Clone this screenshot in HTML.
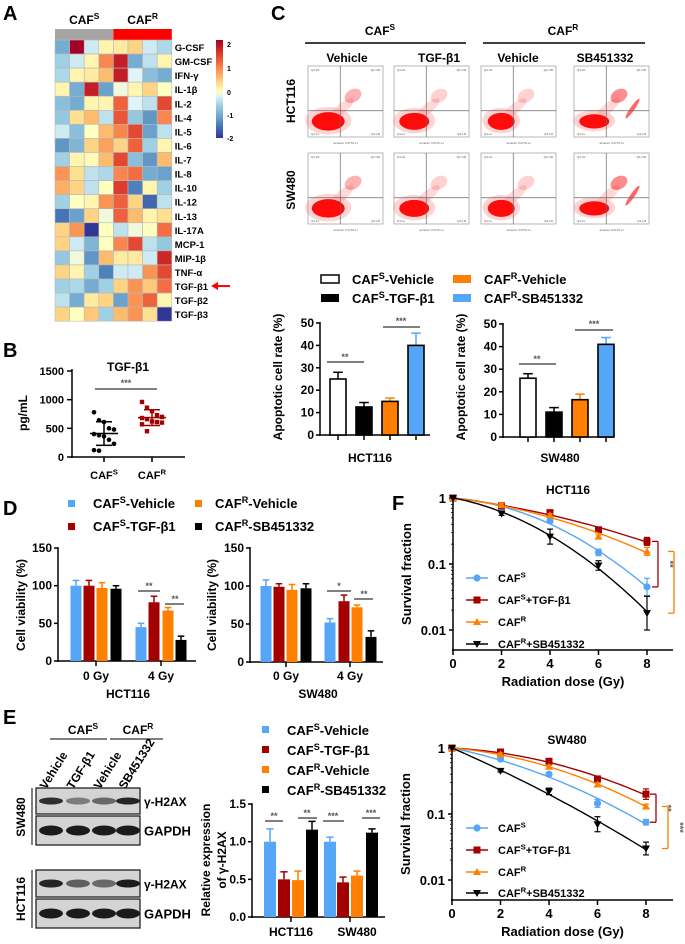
<!DOCTYPE html>
<html><head><meta charset="utf-8">
<style>
html,body{margin:0;padding:0;background:#fff;}
svg{display:block;}
text{font-family:"Liberation Sans",sans-serif;}
</style></head>
<body>
<svg id="fig" width="685" height="944" viewBox="0 0 685 944"></svg>
<script>
// ---------- DATA ----------
const hmRows=['G-CSF','GM-CSF','IFN-γ','IL-1β','IL-2','IL-4','IL-5','IL-6','IL-7','IL-8','IL-10','IL-12','IL-13','IL-17A','MCP-1','MIP-1β','TNF-α','TGF-β1','TGF-β2','TGF-β3'];
const hmVals=[
[-1,2.2,-0.3,0.1,0.2,0.4,-0.3,-0.5],
[-0.6,-0.3,0.1,1,1.9,-1,-0.4,0.1],
[-0.5,0.1,0.2,0.6,1.9,-0.2,-0.8,-1],
[0.1,-1,1.9,-1.1,-0.1,0.1,0.4,0],
[-0.8,-1,0.1,0.1,1.3,-0.2,-0.4,1.5],
[-0.7,0.3,0.6,-0.4,1.4,-0.7,-1.2,1],
[-0.3,-0.8,0,0.6,1,1.5,-1.1,-0.4],
[-1.2,-0.9,0.4,0.8,0.4,1.3,-0.6,0.1],
[-0.6,0.1,0.05,0.6,1.5,-0.8,-1.2,0.6],
[0.9,0.3,-0.4,-0.5,1,1.2,-1,-1.1],
[0.7,0.4,-0.4,0,1.6,-1.4,0.1,-0.6],
[-0.6,0,0.1,0.9,1.3,0.4,-1.6,-0.4],
[-1.5,-1.1,0.4,-0.1,1.3,0.6,0.1,0.3],
[0.4,0.9,-2,0,-0.4,-0.1,0,1.2],
[0.4,-0.3,-0.9,0,1,1.5,-0.4,-0.7],
[-0.7,-0.1,-1.2,0.6,0.2,0.2,-0.3,1.8],
[0.4,0.1,-0.6,-1.4,-0.3,-0.3,0.9,1.5],
[-0.6,-0.5,-1,-0.6,0.4,0.9,0.5,1.2],
[-0.4,-1,0.2,0.4,-1.1,0.9,1.3,0.1],
[0.4,0,0.5,-0.6,0.6,0.9,0.3,-2]];
const bCafS=[780,640,610,500,480,400,380,360,300,230,120,110];
const bCafR=[960,860,800,730,700,680,660,620,610,600,570,450];
const bTicks=[0,500,1000,1500];
const apoH=[25,12.5,15,40], apoHErr=[3,2,1.5,5.5];
const apoS=[26,11,16.5,41], apoSErr=[2,2,2.5,3];
const apoTicks=[0,10,20,30,40,50];
const cvH0=[100,100,97,96], cvH0Err=[7,7,7,4];
const cvH4=[45,78,67,28], cvH4Err=[5,8,4,5];
const cvS0=[100,99,95,97], cvS0Err=[8,4,7,6];
const cvS4=[52,80,72,33], cvS4Err=[5,8,3,8];
const cvTicks=[0,50,100,150];
const eHCT=[1.0,0.5,0.49,1.16], eHCTErr=[0.17,0.1,0.12,0.11];
const eSW=[1.0,0.46,0.55,1.12], eSWErr=[0.06,0.07,0.06,0.05];
const eTicks=[0,0.5,1.0,1.5];
const doses=[0,2,4,6,8];
const fH_cafS=[1,0.68,0.45,0.15,0.045], fH_tgf=[1,0.76,0.6,0.33,0.22], fH_cafR=[1,0.78,0.55,0.26,0.155], fH_sb=[1,0.58,0.26,0.095,0.018];
const fS_cafS=[1,0.68,0.4,0.145,0.075], fS_tgf=[1,0.87,0.63,0.34,0.2], fS_cafR=[1,0.8,0.52,0.28,0.13], fS_sb=[1,0.45,0.22,0.07,0.03];
const doseTicks=[0,2,4,6,8];
const sfTicks=[1,0.1,0.01], sfTickLabels=['1','0.1','0.01'];

// ---------- HELPERS ----------
const NS='http://www.w3.org/2000/svg';
const svg=document.getElementById('fig');
function el(tag,attrs,name,parent){
  const e=document.createElementNS(NS,tag);
  for(const k in attrs) e.setAttribute(k,attrs[k]);
  
  
  (parent||svg).appendChild(e);
  return e;
}
function txt(x,y,s,size,name,opt){
  opt=opt||{};
  const a={x:x,y:y,'font-size':size,'font-weight':opt.w||'bold','text-anchor':opt.a||'middle',fill:opt.fill||'#000'};
  if(opt.rot) a.transform='rotate('+opt.rot+' '+x+' '+y+')';
  if(opt.ff) a['font-family']=opt.ff;
  const t=el('text',a,name);
  const parts=s.split('^');
  parts.forEach((p,i)=>{
    if(!p) return;
    const ts=document.createElementNS(NS,'tspan');
    if(i%2){ts.setAttribute('font-size',size*0.7);ts.setAttribute('dy',-size*0.4);}
    else if(i>0){ts.setAttribute('dy',size*0.4);}
    ts.textContent=p;t.appendChild(ts);
  });
  return t;
}
function line(x1,y1,x2,y2,name,col,w){return el('line',{x1,y1,x2,y2,stroke:col||'#000','stroke-width':w||1.5},name);}
const BLUE='#56a6f7',RED='#a30000',ORG='#ff8000',BLK='#000';

// ---------- PANEL A ----------
txt(3,20,'A',20,'panel-a-label',{a:'start'});
const stops=[[-2,[49,54,149]],[-1.5,[69,117,180]],[-1,[116,173,209]],[-0.5,[171,217,233]],[-0.2,[224,243,248]],[0,[255,255,191]],[0.3,[254,224,144]],[0.7,[253,174,97]],[1.2,[244,109,67]],[1.7,[215,48,39]],[2.2,[165,0,38]]];
function hmColor(v){
  if(v<=stops[0][0]) return 'rgb('+stops[0][1]+')';
  for(let i=1;i<stops.length;i++){ if(v<=stops[i][0]){const t=(v-stops[i-1][0])/(stops[i][0]-stops[i-1][0]);const c=stops[i-1][1].map((c0,j)=>Math.round(c0+(stops[i][1][j]-c0)*t));return 'rgb('+c+')';}}
  return 'rgb('+stops[stops.length-1][1]+')';
}
const hx0=55,hy0=40,cw=14.6,ch=14.06;
el('rect',{x:hx0,y:29,width:cw*4,height:11,fill:'#a8a4a4'},'caf-s-group-bar');
el('rect',{x:hx0+cw*4,y:29,width:cw*4,height:11,fill:'#ff0000'},'caf-r-group-bar');
txt(hx0+cw*2,24,'CAF^S',12,'caf-s-header');
txt(hx0+cw*6,24,'CAF^R',12,'caf-r-header');
hmVals.forEach((row,r)=>{
  row.forEach((v,c)=>{
    el('rect',{x:hx0+c*cw,y:hy0+r*ch,width:cw,height:ch,fill:hmColor(v),stroke:'#b8b8b8','stroke-width':0.6},'heatmap-cell');
  });
  txt(hx0+8*cw+3,hy0+r*ch+ch/2+4,hmRows[r],9.5,'heatmap-row-label',{a:'start'});
});
el('line',{x1:215,y1:hy0+17*ch+ch/2,x2:230,y2:hy0+17*ch+ch/2,stroke:'#f00','stroke-width':2},'tgf-b1-arrow');
el('path',{d:'M'+(211)+' '+(hy0+17*ch+ch/2)+' l7 -4 l0 8 z',fill:'#f00'},'tgf-b1-arrowhead');
const defs=el('defs',{},'defs');
const lg=el('linearGradient',{id:'cbg',x1:0,y1:1,x2:0,y2:0},'colorbar-gradient',defs);
for(let v=-2;v<=2.2001;v+=0.2){el('stop',{offset:((v+2)/4.2),'stop-color':hmColor(v)},'gradient-stop',lg);}
el('rect',{x:216,y:40,width:7,height:98,fill:'url(#cbg)'},'colorbar');
[[2,44],[1,68],[0,92],[-1,115],[-2,138]].forEach(t=>{txt(227,t[1]+3,String(t[0]),7,'colorbar-tick',{a:'start'});});

// ---------- PANEL B ----------
txt(3,357,'B',20,'panel-b-label',{a:'start'});
txt(128,371,'TGF-β1',12,'panel-b-title');
const bY=v=>457-v*(86/1500);
line(72,369,72,458,'b-y-axis');line(71,457,185,457,'b-x-axis');
bTicks.forEach(v=>{line(67,bY(v),72,bY(v),'b-y-tick');txt(64,bY(v)+4,String(v),11,'b-y-tick-label',{a:'end'});});
line(104,457,104,462,'b-x-tick');line(152,457,152,462,'b-x-tick');
txt(104,479,'CAF^S',11,'b-x-label-cafs',{ff:'"Liberation Serif",serif'});
txt(152,479,'CAF^R',11,'b-x-label-cafr');
txt(27,413,'pg/mL',12,'b-y-title',{rot:-90});
line(95,389,157,389,'b-sig-line',null,1);
txt(126,386,'***',9,'b-sig-stars',{fill:'#555'});
function bGroup(vals,cx,col,shape,nm){
  const m=vals.reduce((a,b)=>a+b,0)/vals.length;
  const sd=Math.sqrt(vals.reduce((a,b)=>a+(b-m)*(b-m),0)/(vals.length-1));
  vals.forEach((v,i)=>{
    const x=cx+((i%5)-2)*5;
    if(shape==='c') el('circle',{cx:x,cy:bY(v),r:2.3,fill:col},nm+'-point');
    else el('rect',{x:x-2.2,y:bY(v)-2.2,width:4.4,height:4.4,fill:col},nm+'-point');
  });
  line(cx-14,bY(m),cx+14,bY(m),nm+'-mean',col,1.5);
  line(cx-8,bY(m+sd),cx+8,bY(m+sd),nm+'-sd-top',col,1.5);
  line(cx-8,bY(m-sd),cx+8,bY(m-sd),nm+'-sd-bottom',col,1.5);
  line(cx,bY(m-sd),cx,bY(m+sd),nm+'-sd-line',col,1.5);
}
bGroup(bCafS,104,'#000','c','b-cafs');
bGroup(bCafR,152,RED,'s','b-cafr');

// ---------- PANEL C flow ----------
txt(271,20,'C',20,'panel-c-label',{a:'start'});
txt(380,35,'CAF^S',12,'c-cafs-header');txt(563,35,'CAF^R',12,'c-cafr-header');
line(305,43,466,43,'c-cafs-line');line(483,43,645,43,'c-cafr-line');
['Vehicle','TGF-β1','Vehicle','SB451332'].forEach((s,i)=>txt([347,439,518,605][i],62,s,12,'c-col-header'));
txt(295,101,'HCT116',12,'c-row-hct116',{rot:-90});
txt(295,190,'SW480',12,'c-row-sw480',{rot:-90});
const fx=[308,394,481,574],fy=[66,153],fw=75,fh=71;
const lr=[[0.22,0.13],[0.2,0.12],[0.18,0.12],[0.2,0.1]];
fy.forEach((y,ri)=>fx.forEach((x,ci)=>{
  el('rect',{x:x,y:y,width:fw,height:fh,fill:'#fff',stroke:'#999','stroke-width':0.7},'flow-plot');
  el('ellipse',{cx:x+fw*0.27,cy:y+fh*0.77,rx:fw*lr[ci][0]*1.4,ry:fh*lr[ci][1]*1.5,fill:'#f55',opacity:0.25},'flow-cluster-halo');
  el('ellipse',{cx:x+fw*0.45,cy:y+fh*0.6,rx:fw*0.2,ry:fh*0.07,fill:'#f66',opacity:0.25,transform:'rotate(-40 '+(x+fw*0.45)+' '+(y+fh*0.6)+')'},'flow-cluster-trail');
  el('ellipse',{cx:x+fw*0.27,cy:y+fh*0.78,rx:fw*lr[ci][0],ry:fh*lr[ci][1],fill:'#f00',opacity:0.95},'flow-cluster-live');
  const ur=ci===3?0.9:(ci===0?0.6:0.35);
  el('ellipse',{cx:x+fw*0.6,cy:y+fh*0.42,rx:fw*0.12,ry:fh*0.09,fill:'#f00',opacity:ur*0.5,transform:'rotate(-30 '+(x+fw*0.6)+' '+(y+fh*0.42)+')'},'flow-cluster-apoptotic');
  if(ci===3) el('ellipse',{cx:x+fw*0.78,cy:y+fh*0.6,rx:fw*0.16,ry:fh*0.03,fill:'#f00',opacity:0.6,transform:'rotate(-55 '+(x+fw*0.78)+' '+(y+fh*0.6)+')'},'flow-cluster-late');
  line(x+fw*0.43,y,x+fw*0.43,y+fh,'flow-quadrant-v','#666',0.7);
  line(x,y+fh*0.63,x+fw,y+fh*0.63,'flow-quadrant-h','#666',0.7);
  txt(x+3,y+5,'Q1-UL',3,'flow-q-label',{a:'start',w:'normal',fill:'#555'});
  txt(x+fw-3,y+5,'Q1-UR',3,'flow-q-label',{a:'end',w:'normal',fill:'#555'});
  txt(x+3,y+fh-2,'Q1-LL',3,'flow-q-label',{a:'start',w:'normal',fill:'#555'});
  txt(x+fw-3,y+fh-2,'Q1-LR',3,'flow-q-label',{a:'end',w:'normal',fill:'#555'});
  txt(x+fw/2,y+fh+7,'annexin V-FITC-H',3,'flow-x-label',{w:'normal',fill:'#555'});
}));

// ---------- generic bar chart ----------
function barChart(o){
  const Y=v=>o.y0-v*o.ppu;
  line(o.ax,Y(o.ticks[o.ticks.length-1])-1,o.ax,o.y0+1,o.nm+'-y-axis');
  line(o.ax-1,o.y0,o.axEnd,o.y0,o.nm+'-x-axis');
  o.ticks.forEach((v,i)=>{line(o.ax-4,Y(v),o.ax,Y(v),o.nm+'-y-tick');txt(o.ax-6,Y(v)+4,o.tickLabels?o.tickLabels[i]:String(v),o.fs||12,o.nm+'-y-tick-label',{a:'end'});});
  o.series.forEach((s)=>{
    s.vals.forEach((v,i)=>{
      const cx=s.cx[i],col=o.colors[i];
      const top=Y(v+s.errs[i]);
      const ec=o.colors[i]==='#fff'?'#000':col;
      line(cx,Y(v),cx,top,o.nm+'-error-bar',ec,1.5);
      line(cx-o.bw*0.3,top,cx+o.bw*0.3,top,o.nm+'-error-cap',ec,1.5);
      el('rect',{x:cx-o.bw/2,y:Y(v),width:o.bw,height:v*o.ppu,fill:col,stroke:o.stroke?'#000':'none','stroke-width':o.stroke?1.6:0},o.nm+'-bar');
    });
  });
  return Y;
}

// ---------- PANEL C bars ----------
[[321,'#fff',true,'CAF^S^-Vehicle',352,284],[453,ORG,false,'CAF^R^-Vehicle',484,284],[321,BLK,false,'CAF^S^-TGF-β1',352,303],[453,BLUE,false,'CAF^R^-SB451332',484,303]].forEach(l=>{
  el('rect',{x:l[0],y:l[5]-9,width:18,height:8,fill:l[1],stroke:l[2]?'#000':'none','stroke-width':1.5},'c-legend-swatch');
  txt(l[4],l[5],l[3],13,'c-legend-label',{a:'start'});
});
const cCols=['#fff',BLK,ORG,BLUE];
barChart({nm:'c-hct116',ax:320,axEnd:430,y0:435,ppu:2.24,ticks:apoTicks,colors:cCols,bw:16,stroke:true,
  series:[{vals:apoH,errs:apoHErr,cx:[338,364,390,416]}]});
barChart({nm:'c-sw480',ax:503,axEnd:614,y0:437,ppu:2.26,ticks:apoTicks,colors:cCols,bw:16,stroke:true,
  series:[{vals:apoS,errs:apoSErr,cx:[528,554,580,606]}]});
[338,364,390,416,528,554,580,606].forEach(x=>line(x,x<500?435:437,x,x<500?440:442,'c-x-tick'));
txt(370,462,'HCT116',12,'c-x-label-hct116');txt(560,462,'SW480',12,'c-x-label-sw480');
txt(282,377,'Apoptotic cell rate (%)',12,'c-y-title-left',{rot:-90});
txt(465,377,'Apoptotic cell rate (%)',12,'c-y-title-right',{rot:-90});
line(327,362,364,362,'c-sig-line',null,1);txt(345,360,'**',9,'c-sig-stars',{fill:'#555'});
line(383,327,420,327,'c-sig-line',null,1);txt(401,324,'***',9,'c-sig-stars',{fill:'#555'});
line(519,364,556,364,'c-sig-line',null,1);txt(537,362,'**',9,'c-sig-stars',{fill:'#555'});
line(575,330,613,330,'c-sig-line',null,1);txt(594,327,'***',9,'c-sig-stars',{fill:'#555'});

// ---------- PANEL D ----------
txt(3,515,'D',20,'panel-d-label',{a:'start'});
[[68,BLUE,'CAF^S^-Vehicle',93,508],[195,ORG,'CAF^R^-Vehicle',215,508],[68,RED,'CAF^S^-TGF-β1',93,531],[195,BLK,'CAF^R^-SB451332',215,531]].forEach(l=>{
  el('rect',{x:l[0],y:l[4]-8,width:7,height:7,fill:l[1]},'d-legend-swatch');
  txt(l[3],l[4],l[2],13,'d-legend-label',{a:'start'});
});
const dCols=[BLUE,RED,ORG,BLK];
barChart({nm:'d-hct116',ax:58,axEnd:196,y0:661,ppu:0.753,ticks:cvTicks,colors:dCols,bw:11,
  series:[{vals:cvH0,errs:cvH0Err,cx:[76,89,102,116]},{vals:cvH4,errs:cvH4Err,cx:[141,154,168,181]}]});
barChart({nm:'d-sw480',ax:250,axEnd:383,y0:662,ppu:0.76,ticks:cvTicks,colors:dCols,bw:11,
  series:[{vals:cvS0,errs:cvS0Err,cx:[266,279,292,306]},{vals:cvS4,errs:cvS4Err,cx:[330,344,357,371]}]});
[[96,661],[161,661],[286,662],[350,662]].forEach(p=>line(p[0],p[1],p[0],p[1]+5,'d-x-tick'));
txt(96,680,'0 Gy',12,'d-x-label');txt(161,680,'4 Gy',12,'d-x-label');
txt(286,680,'0 Gy',12,'d-x-label');txt(350,680,'4 Gy',12,'d-x-label');
txt(128,698,'HCT116',12,'d-group-label');txt(318,698,'SW480',12,'d-group-label');
txt(25,605,'Cell viability (%)',12,'d-y-title-left',{rot:-90});
txt(216,605,'Cell viability (%)',12,'d-y-title-right',{rot:-90});
line(138,591,160,591,'d-sig-line',null,1);txt(149,589,'**',9,'d-sig-stars',{fill:'#555'});
line(165,604,184,604,'d-sig-line',null,1);txt(175,602,'**',9,'d-sig-stars',{fill:'#555'});
line(327,591,351,591,'d-sig-line',null,1);txt(339,589,'*',9,'d-sig-stars',{fill:'#555'});
line(354,599,373,599,'d-sig-line',null,1);txt(364,597,'**',9,'d-sig-stars',{fill:'#555'});

// ---------- PANEL E ----------
txt(3,724,'E',20,'panel-e-label',{a:'start'});
txt(83,734,'CAF^S',12,'e-cafs-header');txt(138,734,'CAF^R',12,'e-cafr-header');
line(50,739,107,739,'e-cafs-line',null,1);line(110,739,163,739,'e-cafr-line',null,1);
[['Vehicle',46],['TGF-β1',73],['Vehicle',100],['SB451332',125]].forEach(l=>txt(l[1],790,l[0],12,'e-lane-label',{a:'start',rot:-58}));
const blots=[[788,26,[0.85,0.45,0.55,0.9],7,'γ-H2AX'],[816,29,[0.95,0.95,0.95,0.95],10,'GAPDH'],[870,27,[0.9,0.6,0.55,0.95],8,'γ-H2AX'],[899,29,[0.95,0.95,0.95,0.95],10,'GAPDH']];
blots.forEach(b=>{
  el('rect',{x:36,y:b[0],width:104,height:b[1],fill:'#d4d4d4',stroke:'#222','stroke-width':1.3},'e-blot-box');
  [51,78,104,128].forEach((x,i)=>el('ellipse',{cx:x,cy:b[0]+b[1]/2,rx:12,ry:b[3]/2,fill:'#111',opacity:b[2][i]},'e-blot-band'));
  txt(144,b[0]+b[1]/2+5,b[4],b[4]==='GAPDH'?13:12,'e-blot-label',{a:'start'});
});
line(32,788,32,845,'e-sw480-bracket',null,1);line(32,870,32,928,'e-hct116-bracket',null,1);
txt(25,817,'SW480',12,'e-row-sw480',{rot:-90});txt(25,899,'HCT116',12,'e-row-hct116',{rot:-90});
[[BLUE,'CAF^S^-Vehicle',735],[RED,'CAF^S^-TGF-β1',755],[ORG,'CAF^R^-Vehicle',775],[BLK,'CAF^R^-SB451332',795]].forEach(l=>{
  el('rect',{x:262,y:l[2]-9,width:7,height:7,fill:l[0]},'e-legend-swatch');
  txt(287,l[2],l[1],13,'e-legend-label',{a:'start'});
});
barChart({nm:'e-bars',ax:252,axEnd:385,y0:917,ppu:75.3,ticks:eTicks,tickLabels:['0.0','0.5','1.0','1.5'],colors:dCols,bw:12,
  series:[{vals:eHCT,errs:eHCTErr,cx:[270,284,298,312]},{vals:eSW,errs:eSWErr,cx:[330,343,357,372]}]});
line(291,917,291,922,'e-x-tick');line(350,917,350,922,'e-x-tick');
txt(291,936,'HCT116',12,'e-x-label');txt(357,936,'SW480',12,'e-x-label');
txt(210,860,'Relative expression',12,'e-y-title-1',{rot:-90});
txt(226,860,'of γ-H2AX',12,'e-y-title-2',{rot:-90});
line(265,821,283,821,'e-sig-line',null,1);txt(274,819,'**',9,'e-sig-stars',{fill:'#555'});
line(298,818,317,818,'e-sig-line',null,1);txt(307,816,'**',9,'e-sig-stars',{fill:'#555'});
line(323,821,344,821,'e-sig-line',null,1);txt(333,819,'***',9,'e-sig-stars',{fill:'#555'});
line(362,818,380,818,'e-sig-line',null,1);txt(371,816,'***',9,'e-sig-stars',{fill:'#555'});

// ---------- PANEL F ----------
txt(392,510,'F',20,'panel-f-label',{a:'start'});
function marker(shape,x,y,col,nm){
  if(shape==='c') el('circle',{cx:x,cy:y,r:3.6,fill:col},nm);
  else if(shape==='s') el('rect',{x:x-3.5,y:y-3.5,width:7,height:7,fill:col},nm);
  else if(shape==='u') el('path',{d:'M'+x+' '+(y-4)+' l4 7 l-8 0 z',fill:col},nm);
  else el('path',{d:'M'+x+' '+(y+4)+' l4 -7 l-8 0 z',fill:col},nm);
}
function lqFit(D,S){
  let s2=0,s3=0,s4=0,r1=0,r2=0;
  D.forEach((d,i)=>{const l=Math.log(S[i]);s2+=d*d;s3+=d*d*d;s4+=d*d*d*d;r1+=-d*l;r2+=-d*d*l;});
  const det=s2*s4-s3*s3;return [(r1*s4-s3*r2)/det,(s2*r2-s3*r1)/det];
}
function survPlot(o){
  const X=d=>o.x0+d*o.ppg;
  const Y=s=>o.y1-Math.log10(s)*o.ppd;
  const yb=o.y1+2*o.ppd+o.pad;
  line(o.x0,Y(1)-2,o.x0,yb+1,o.nm+'-y-axis');line(o.x0-1,yb,o.xEnd,yb,o.nm+'-x-axis');
  sfTicks.forEach((v,i)=>{line(o.x0-4,Y(v),o.x0,Y(v),o.nm+'-y-tick');txt(o.x0-7,Y(v)+5,sfTickLabels[i],13,o.nm+'-y-tick-label',{a:'end'});});
  for(let e=0;e>-2;e--){for(let k=2;k<10;k++){const v=Math.pow(10,e-1)*k;line(o.x0-2,Y(v),o.x0,Y(v),o.nm+'-y-minor-tick',null,0.8);}}
  doseTicks.forEach(d=>{line(X(d),yb,X(d),yb+5,o.nm+'-x-tick');txt(X(d),yb+18,String(d),13,o.nm+'-x-tick-label');});
  txt((o.x0+o.xEnd)/2,yb+36,'Radiation dose (Gy)',13,o.nm+'-x-title');
  txt(o.x0-42,(Y(1)+yb)/2,'Survival fraction',13,o.nm+'-y-title',{rot:-90});
  txt(o.x0+115,Y(1)-4,o.title,12,o.nm+'-title');
  o.series.forEach((s,si)=>{
    const f=lqFit(doses,s.v);let d='';
    for(let t=0;t<=8.0001;t+=0.2){const sv=Math.exp(-f[0]*t-f[1]*t*t);d+=(t===0?'M':'L')+X(t).toFixed(1)+' '+Y(sv).toFixed(1);}
    el('path',{d:d,fill:'none',stroke:s.col,'stroke-width':1.4},o.nm+'-fit-line');
    s.v.forEach((v,i)=>{
      const e=s.e[i];
      if(e>0){line(X(doses[i]),Y(v*(1+e)),X(doses[i]),Y(v/(1+e)),o.nm+'-error-bar',s.col,1.2);
        line(X(doses[i])-3,Y(v*(1+e)),X(doses[i])+3,Y(v*(1+e)),o.nm+'-error-cap',s.col,1.2);
        line(X(doses[i])-3,Y(v/(1+e)),X(doses[i])+3,Y(v/(1+e)),o.nm+'-error-cap',s.col,1.2);}
      marker(s.shape,X(doses[i]),Y(v),s.col,o.nm+'-point');
    });
    const ly=o.legY[si];
    line(o.lx,ly,o.lx+22,ly,o.nm+'-legend-line',s.col,1.4);
    marker(s.shape,o.lx+11,ly,s.col,o.nm+'-legend-marker');
    txt(o.lx+32,ly+4,s.label,11,o.nm+'-legend-label',{a:'start'});
  });
  o.sigs.forEach(g=>{
    line(g.x,Y(g.a),g.x,Y(g.b),o.nm+'-sig-bracket',g.col,1.3);
    line(g.x-6,Y(g.a),g.x,Y(g.a),o.nm+'-sig-bracket',g.col,1.3);
    line(g.x-6,Y(g.b),g.x,Y(g.b),o.nm+'-sig-bracket',g.col,1.3);
    txt(g.x+9,(Y(g.a)+Y(g.b))/2,g.s,9,o.nm+'-sig-stars',{rot:90,fill:'#555'});
  });
}
survPlot({nm:'f-hct116',title:'HCT116',x0:453,ppg:24.25,xEnd:673,y1:498,ppd:66,pad:20,lx:466,legY:[578,600,622,644],
  series:[{v:fH_cafS,e:[0,0.06,0.08,0.12,0.35],col:BLUE,shape:'c',label:'CAF^S'},
          {v:fH_tgf,e:[0,0.05,0.05,0.08,0.15],col:RED,shape:'s',label:'CAF^S^+TGF-β1'},
          {v:fH_cafR,e:[0,0.05,0.05,0.06,0.15],col:ORG,shape:'u',label:'CAF^R'},
          {v:fH_sb,e:[0,0.06,0.3,0.18,0.8],col:BLK,shape:'d',label:'CAF^R^+SB451332'}],
  sigs:[{x:658,a:0.22,b:0.045,col:RED,s:'**'},{x:674,a:0.155,b:0.018,col:ORG,s:'**'}]});
survPlot({nm:'f-sw480',title:'SW480',x0:452,ppg:24.25,xEnd:673,y1:748,ppd:66,pad:20,lx:466,legY:[828,850,872,893],
  series:[{v:fS_cafS,e:[0,0.05,0.06,0.15,0.1],col:BLUE,shape:'c',label:'CAF^S'},
          {v:fS_tgf,e:[0,0.05,0.05,0.08,0.2],col:RED,shape:'s',label:'CAF^S^+TGF-β1'},
          {v:fS_cafR,e:[0,0.05,0.05,0.06,0.08],col:ORG,shape:'u',label:'CAF^R'},
          {v:fS_sb,e:[0,0.04,0.12,0.3,0.25],col:BLK,shape:'d',label:'CAF^R^+SB451332'}],
  sigs:[{x:656,a:0.2,b:0.075,col:RED,s:'**'},{x:668,a:0.13,b:0.03,col:ORG,s:'***'}]});
</script>
</body></html>
